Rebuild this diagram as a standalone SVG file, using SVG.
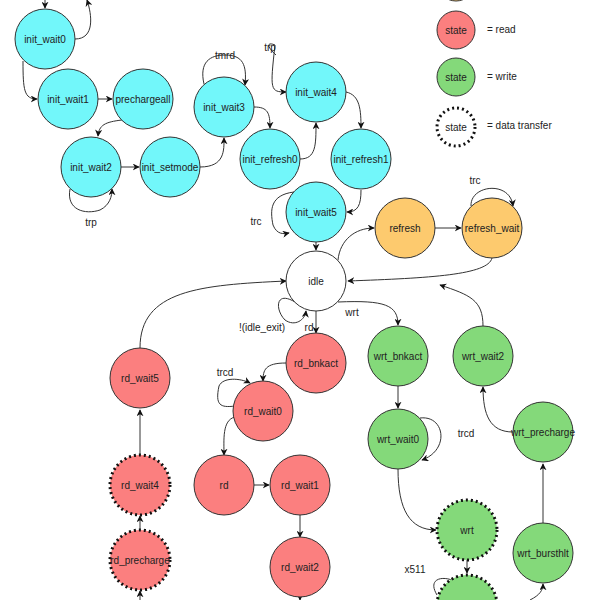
<svg xmlns="http://www.w3.org/2000/svg" width="600" height="600" viewBox="0 0 600 600">
<style>
.n{stroke:#333;stroke-width:1}
.c{fill:#72f7fa}.o{fill:#fdca6e}.r{fill:#fb7f7f}.g{fill:#84d97a}.w{fill:#fff}
.d{stroke:#111;stroke-width:3;stroke-dasharray:2 3}
text{font-family:"Liberation Sans",Arial,sans-serif;font-size:10px;fill:#222;text-anchor:middle;dominant-baseline:central}
.e path{fill:none;stroke:#333;stroke-width:1;marker-end:url(#a)}
.l{text-anchor:start}
</style>
<defs><marker id="a" viewBox="0 0 10 10" refX="9" refY="5" markerWidth="7" markerHeight="7" orient="auto"><path d="M0,0L10,5L0,10L3,5Z" fill="#111"/></marker></defs>
<rect width="600" height="600" fill="#fff"/>
<g class="e" id="connectors">
<path d="M45,0V8"/>
<path d="M75,39C95,39 92,15 87,0"/>
<path d="M23,61C23,90 24,99 37,99"/>
<path d="M98,99H112"/>
<path d="M122,120C105,122 99,125 98,136"/>
<path d="M70,189C66,210 85,215 100,210 110,205 112,196 112,189"/>
<path d="M121,167H139"/>
<path d="M200,167C225,167 224,150 224,138"/>
<path d="M204,84C199,62 210,55 225,55 243,55 247,65 245,85"/>
<path d="M254,107C268,107 270,113 270,128"/>
<path d="M300,159C316,159 316,145 316,123"/>
<path d="M276,55C265,45 268,42 275,45 270,90 270,92 286,92"/>
<path d="M346,92C360,95 361,110 361,128"/>
<path d="M361,190C361,205 358,212 347,212"/>
<path d="M294,192C270,195 270,210 273,225 277,235 284,234 289,233"/>
<path d="M316,242V250"/>
<path d="M338,260C340,240 355,228 374,228"/>
<path d="M435,228H461"/>
<path d="M471,206C470,185 510,180 513,206"/>
<path d="M492,258C488,275 430,278 348,281"/>
<path d="M295,302C275,290 275,310 285,320 295,327 305,320 306,311"/>
<path d="M316,311V333"/>
<path d="M140,348C140,290 200,285 286,281"/>
<path d="M338,302C385,300 398,305 398,325"/>
<path d="M483,326C483,300 470,295 440,285"/>
<path d="M286,363C265,363 263,370 263,381"/>
<path d="M235,406C220,408 215,405 219,386 223,377 240,378 250,383"/>
<path d="M235,417C222,420 224,440 224,455"/>
<path d="M254,485H269"/>
<path d="M300,515V537"/>
<path d="M300,597V600"/>
<path d="M140,455V410"/>
<path d="M140,530V516"/>
<path d="M140,600V591"/>
<path d="M398,386V408"/>
<path d="M420,418C445,415 450,450 422,460"/>
<path d="M398,469C398,510 410,530 436,530"/>
<path d="M467,560V573"/>
<path d="M437,595C425,575 450,575 460,585"/>
<path d="M513,432C490,432 483,415 483,387"/>
<path d="M543,523V464"/>
<path d="M530,600C540,595 543,590 543,584"/>
</g>
<g id="labels">
<text x="91" y="222">trp</text>
<text x="225" y="55">tmrd</text>
<text x="270" y="47">trp</text>
<text x="256" y="221">trc</text>
<text x="475" y="180">trc</text>
<text x="262" y="327">!(idle_exit)</text>
<text x="309" y="327">rd</text>
<text x="352" y="312">wrt</text>
<text x="225" y="372">trcd</text>
<text x="466" y="433">trcd</text>
<text x="415" y="569">x511</text>
</g>
<g id="legend">
<circle class="n o" cx="456" cy="-18" r="19"/>
<circle class="n r" cx="456" cy="30" r="19"/><text x="456" y="30">state</text><text class="l" x="487" y="29">= read</text>
<circle class="n g" cx="456" cy="77" r="19"/><text x="456" y="77">state</text><text class="l" x="487" y="76">= write</text>
<circle class="w d" cx="456" cy="127" r="19"/><text x="456" y="127">state</text><text class="l" x="487" y="125">= data transfer</text>
</g>
<g id="init_wait0"><circle class="n c" cx="45" cy="39" r="30"/><text x="45" y="39">init_wait0</text></g>
<g id="init_wait1"><circle class="n c" cx="68" cy="99" r="30"/><text x="68" y="99">init_wait1</text></g>
<g id="prechargeall"><circle class="n c" cx="143" cy="99" r="30"/><text x="143" y="99">prechargeall</text></g>
<g id="init_wait2"><circle class="n c" cx="91" cy="167" r="30"/><text x="91" y="167">init_wait2</text></g>
<g id="init_setmode"><circle class="n c" cx="170" cy="167" r="30"/><text x="170" y="167">init_setmode</text></g>
<g id="init_wait3"><circle class="n c" cx="224" cy="107" r="30"/><text x="224" y="107">init_wait3</text></g>
<g id="init_refresh0"><circle class="n c" cx="270" cy="159" r="30"/><text x="270" y="159">init_refresh0</text></g>
<g id="init_wait4"><circle class="n c" cx="316" cy="92" r="30"/><text x="316" y="92">init_wait4</text></g>
<g id="init_refresh1"><circle class="n c" cx="361" cy="159" r="30"/><text x="361" y="159">init_refresh1</text></g>
<g id="init_wait5"><circle class="n c" cx="316" cy="212" r="30"/><text x="316" y="212">init_wait5</text></g>
<g id="refresh"><circle class="n o" cx="405" cy="228" r="30"/><text x="405" y="228">refresh</text></g>
<g id="refresh_wait"><circle class="n o" cx="492" cy="228" r="30"/><text x="492" y="228">refresh_wait</text></g>
<g id="idle"><circle class="n w" cx="316" cy="281" r="30"/><text x="316" y="281">idle</text></g>
<g id="rd_bnkact"><circle class="n r" cx="316" cy="363" r="30"/><text x="316" y="363">rd_bnkact</text></g>
<g id="rd_wait0"><circle class="n r" cx="263" cy="411" r="30"/><text x="263" y="411">rd_wait0</text></g>
<g id="rd"><circle class="n r" cx="224" cy="485" r="30"/><text x="224" y="485">rd</text></g>
<g id="rd_wait1"><circle class="n r" cx="300" cy="485" r="30"/><text x="300" y="485">rd_wait1</text></g>
<g id="rd_wait2"><circle class="n r" cx="300" cy="567" r="30"/><text x="300" y="567">rd_wait2</text></g>
<g id="rd_wait5"><circle class="n r" cx="140" cy="378" r="30"/><text x="140" y="378">rd_wait5</text></g>
<g id="rd_wait4"><circle class="r d" cx="140" cy="485" r="30"/><text x="140" y="485">rd_wait4</text></g>
<g id="rd_precharge"><circle class="r d" cx="140" cy="560" r="30"/><text x="140" y="560">rd_precharge</text></g>
<g id="wrt_bnkact"><circle class="n g" cx="398" cy="356" r="30"/><text x="398" y="356">wrt_bnkact</text></g>
<g id="wrt_wait2"><circle class="n g" cx="483" cy="356" r="30"/><text x="483" y="356">wrt_wait2</text></g>
<g id="wrt_wait0"><circle class="n g" cx="398" cy="439" r="30"/><text x="398" y="439">wrt_wait0</text></g>
<g id="wrt_precharge"><circle class="n g" cx="543" cy="432" r="30"/><text x="543" y="432">wrt_precharge</text></g>
<g id="wrt"><circle class="g d" cx="467" cy="530" r="30"/><text x="467" y="530">wrt</text></g>
<g id="wrt_bursthlt"><circle class="n g" cx="543" cy="553" r="30"/><text x="543" y="553">wrt_bursthlt</text></g>
<g id="wrt_burst"><circle class="g d" cx="467" cy="605" r="30"/></g>
</svg>
